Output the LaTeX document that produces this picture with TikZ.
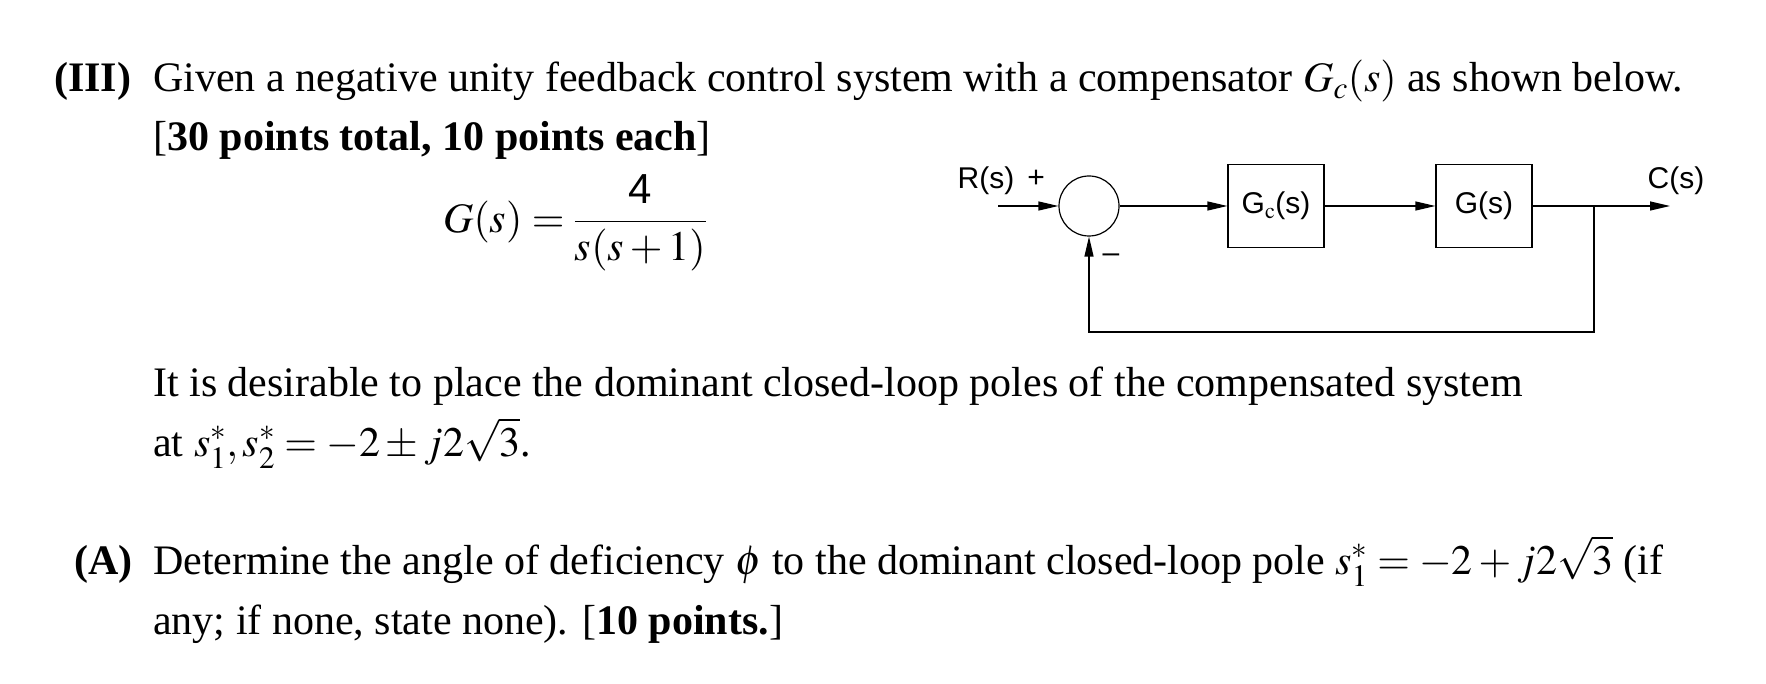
\documentclass[tikz,border=0pt]{standalone}
\usepackage{mathptmx}
\usepackage{fontspec}
\setmainfont{Liberation Serif}
\newfontfamily\dsans{Liberation Sans}
\usetikzlibrary{arrows.meta}
\begin{document}
\begin{tikzpicture}[x=1pt,y=-1pt,
  txt/.style={anchor=base west,inner sep=0pt,font=\fontsize{42}{46}\selectfont},
  dl/.style={inner sep=0pt,font=\dsans\fontsize{30}{33}\selectfont},
  blk/.style={draw,line width=1.2pt,minimum width=96pt,minimum height=83pt,inner sep=0pt,font=\dsans\fontsize{30}{33}\selectfont},
  sig/.style={line width=1.2pt,-{Triangle[length=20pt,width=9pt]}},
  ln/.style={line width=1.2pt}]
\useasboundingbox (0,0) rectangle (1766,684);
\node[txt] (t1) at (54,92) {\textbf{(III)}};
\node[txt] (t1b) at (153,92) {Given a negative unity feedback control system with a compensator $G_c(s)$ as shown below.};
\node[txt] (t2) at (153,151) {[\textbf{30 points total, 10 points each}]};
\node[inner sep=0pt,font=\fontsize{42}{46}\selectfont] (geq) at (575,223) {$\displaystyle G(s)=\frac{\mbox{\dsans 4}}{s(s+1)}$};
\node[txt] (t3) at (153,396) {It is desirable to place the dominant closed-loop poles of the compensated system};
\node[txt] (t4) at (153,456) {at $s_1^*,s_2^*=-2\pm j2\sqrt{3}$.};
\node[txt] (t5) at (74,574) {\textbf{(A)}};
\node[txt] (t5b) at (153,574) {Determine the angle of deficiency $\phi$ to the dominant closed-loop pole $s_1^*=-2+j2\sqrt{3}$ (if};
\node[txt] (t6) at (153,634) {any; if none, state none). [\textbf{10 points.}]};
% block diagram
\node[draw,circle,line width=1.2pt,minimum size=60pt,inner sep=0pt] (sum) at (1089,206) {};
\node[blk] (gc) at (1276,206) {G$_\mathrm{c}$(s)};
\node[blk] (g) at (1484,206) {G(s)};
\coordinate (in) at (998,206);
\coordinate (br) at (1594,206);
\coordinate (out) at (1670,206);
\coordinate (bot) at (1594,332);
\node[dl] (rs) at (986,181) {R(s)};
\node[dl] (plus) at (1036,179) {+};
\node[dl] (cs) at (1676,181) {C(s)};
\node[dl] (minus) at (1111,258) {–};
\draw[sig] (in) -- (sum.west);
\draw[sig] (sum.east) -- (gc.west);
\draw[sig] (gc.east) -- (g.west);
\draw[ln] (g.east) -- (br);
\draw[sig] (br) -- (out);
\draw[sig] (br) -- (bot) -| (sum.south);
\end{tikzpicture}
\end{document}
